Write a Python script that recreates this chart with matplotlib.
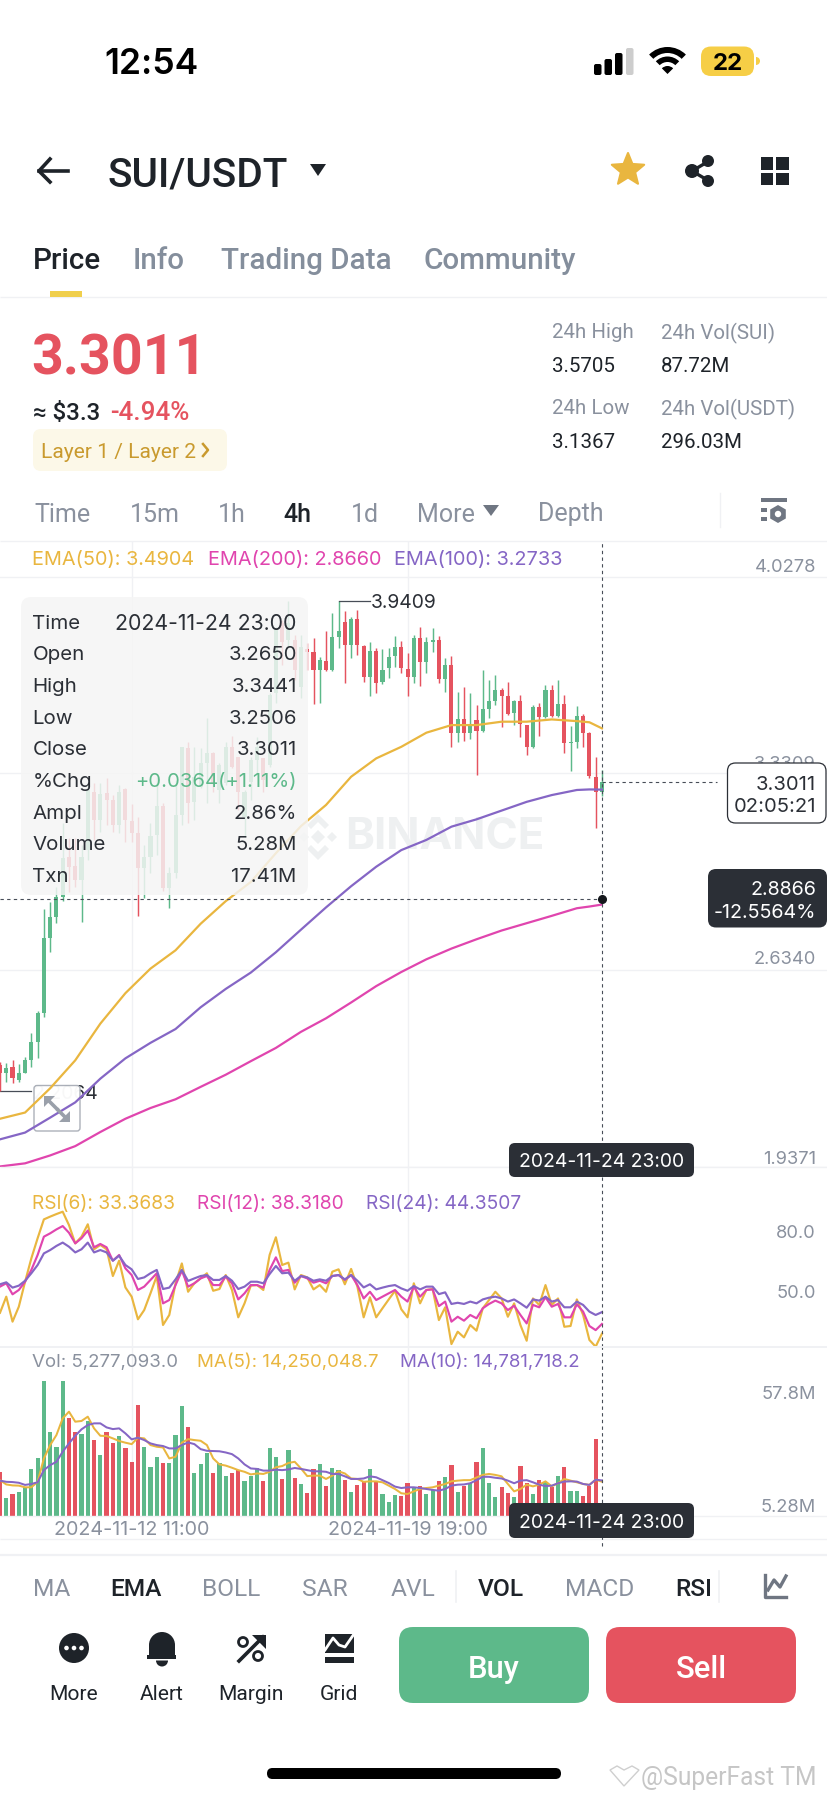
import numpy as np
import matplotlib
matplotlib.use("Agg")
import matplotlib.pyplot as plt
from matplotlib.patches import FancyBboxPatch, Rectangle, Circle, Wedge, Polygon

# ---------- data ----------
highs = [2.309,2.306,2.315,2.301,2.327,2.410,2.490,2.849,2.875,2.929,3.154,3.101,3.101,3.077,3.301,3.298,3.298,3.313,3.254,3.290,
         3.278,3.222,3.177,3.077,3.156,3.319,3.225,3.000,3.307,3.426,3.443,3.426,3.420,3.526,3.408,3.367,3.443,3.465,3.390,3.272,
         3.390,3.461,3.384,3.615,3.851,3.874,3.9409,3.821,3.821,3.792,3.809,3.744,3.837,3.898,3.9409,3.907,3.886,3.910,3.786,3.798,
         3.774,3.770,3.774,3.818,3.801,3.756,3.821,3.851,3.813,3.845,3.819,3.739,3.747,3.620,3.636,3.617,3.572,3.697,3.662,3.680,
         3.632,3.656,3.591,3.607,3.504,3.573,3.579,3.644,3.644,3.662,3.609,3.499,3.571,3.541,3.479,3.388,3.3441]
opens = [2.297,2.268,2.289,2.244,2.268,2.315,2.380,2.483,2.746,2.821,2.892,3.036,3.003,2.953,3.059,3.264,3.167,3.260,3.237,3.148,
         3.274,3.163,3.118,2.994,3.036,3.112,3.215,2.923,2.977,3.183,3.420,3.231,3.284,3.367,3.404,3.272,3.296,3.423,3.390,3.178,
         3.302,3.378,3.384,3.361,3.615,3.863,3.803,3.803,3.638,3.770,3.762,3.697,3.730,3.697,3.815,3.868,3.786,3.877,3.782,3.671,
         3.766,3.656,3.703,3.747,3.778,3.700,3.671,3.809,3.727,3.798,3.803,3.664,3.715,3.473,3.524,3.473,3.520,3.481,3.558,3.589,
         3.626,3.605,3.544,3.587,3.502,3.423,3.565,3.532,3.626,3.534,3.576,3.437,3.441,3.534,3.475,3.319,3.2650]
closes = [2.268,2.288,2.250,2.268,2.315,2.380,2.483,2.746,2.821,2.892,3.030,3.000,2.953,3.036,3.272,3.166,3.258,3.237,3.148,3.266,
          3.166,3.118,2.994,3.036,3.109,3.215,2.923,2.979,3.183,3.423,3.225,3.319,3.367,3.402,3.296,3.361,3.426,3.355,3.266,3.266,
          3.378,3.426,3.307,3.609,3.845,3.798,3.863,3.697,3.780,3.762,3.697,3.733,3.697,3.815,3.835,3.786,3.877,3.786,3.671,3.766,
          3.650,3.697,3.744,3.778,3.703,3.671,3.809,3.727,3.795,3.803,3.664,3.715,3.473,3.524,3.473,3.502,3.482,3.558,3.589,3.626,
          3.605,3.541,3.587,3.505,3.423,3.567,3.532,3.626,3.534,3.576,3.437,3.441,3.534,3.473,3.322,3.266,3.3011]
lows = [2.2064,2.238,2.233,2.238,2.268,2.292,2.321,2.466,2.699,2.802,2.880,2.912,2.929,2.805,3.024,3.095,3.124,3.148,3.124,3.118,
        3.089,3.089,2.825,2.888,2.977,3.042,2.915,2.853,2.959,3.148,3.156,3.166,3.278,3.225,3.266,3.225,3.290,3.349,3.201,3.107,
        3.236,3.331,3.266,3.355,3.579,3.715,3.780,3.662,3.597,3.697,3.576,3.579,3.695,3.695,3.774,3.652,3.739,3.750,3.656,3.605,
        3.615,3.648,3.668,3.707,3.685,3.605,3.652,3.641,3.685,3.762,3.652,3.620,3.423,3.443,3.447,3.453,3.325,3.479,3.526,3.573,
        3.494,3.538,3.501,3.459,3.396,3.420,3.465,3.526,3.532,3.532,3.402,3.340,3.420,3.423,3.313,3.137,3.2506]
volumes = [18.2,7.3,9.1,9.8,12.2,19.4,24.0,56.6,34.9,28.9,56.4,40.8,35.2,34.2,39.8,31.7,25.4,34.9,30.3,33.4,
           28.5,22.4,46.5,28.9,20.5,24.7,21.9,21.9,33.7,46.1,37.3,18.0,21.7,26.4,17.7,22.2,16.6,17.7,19.1,14.5,
           16.8,19.8,14.7,28.5,24.7,15.2,27.5,15.9,13.1,9.4,19.6,21.7,12.6,19.8,19.3,14.9,10.1,12.9,14.0,19.6,
           14.0,9.1,5.6,8.8,8.4,13.6,11.9,12.6,9.1,10.8,14.4,16.3,21.4,10.1,12.6,13.6,22.4,28.4,13.6,7.7,
           11.9,9.4,7.7,21.0,13.7,9.1,15.1,14.0,11.9,16.5,20.3,10.5,10.5,8.4,12.6,32.1,5.28]
ma5 = [14.9,13.1,12.7,12.6,11.9,11.9,14.2,24.0,29.6,33.8,40.8,43.6,39.4,39.7,41.5,36.6,33.5,33.4,32.4,31.3,
       30.6,30.0,32.7,32.4,29.6,28.9,28.6,24.0,24.7,30.6,32.1,31.7,31.4,29.6,24.0,21.5,21.0,20.1,19.1,18.4,
       17.3,17.7,17.5,18.4,20.3,20.8,22.1,22.6,19.8,16.6,16.8,16.8,15.4,16.8,18.6,17.7,15.6,15.4,14.2,14.4,
       14.4,14.0,12.6,11.2,9.4,9.1,10.2,11.2,11.6,11.9,12.6,13.3,14.4,14.7,14.9,14.9,16.0,17.1,17.5,17.1,
       16.5,13.3,10.2,11.2,13.0,12.3,13.0,14.4,12.3,13.6,15.4,14.7,14.0,13.3,12.9,15.1,14.25]
ma10 = [14.7,14.2,14.1,13.8,12.9,13.3,14.0,19.1,21.2,22.6,26.8,30.3,33.5,36.2,38.0,38.7,38.7,37.0,36.3,36.6,
        34.5,32.0,32.7,31.7,30.3,29.6,29.2,28.2,28.2,29.6,30.7,30.0,27.9,27.2,27.1,27.0,26.5,25.8,24.0,21.5,
        19.8,19.6,18.9,18.9,19.3,19.1,19.4,20.0,19.6,19.1,18.6,18.6,18.4,17.5,17.5,16.5,15.4,15.4,15.6,16.5,
        16.1,14.9,13.7,12.2,11.6,11.9,11.9,11.6,11.2,10.8,10.5,11.2,12.6,13.0,13.1,13.6,14.9,16.3,16.3,15.9,
        15.6,14.7,13.6,14.7,14.9,14.0,13.0,12.4,12.6,13.6,14.3,14.4,14.3,13.3,12.9,15.1,14.78]
rsi6 = [44.0,52.2,39.5,47.1,59.8,71.7,81.9,91.5,92.9,94.2,95.4,88.6,79.3,82.7,89.0,76.3,78.5,76.3,62.7,70.5,
        56.9,52.2,40.7,45.4,53.9,62.7,37.8,42.9,59.0,69.1,54.7,59.0,61.5,64.1,55.2,56.1,63.2,55.6,41.7,48.8,
        57.8,58.1,55.6,73.4,82.4,68.3,69.5,55.9,63.2,62.0,55.9,58.1,54.7,64.9,66.1,58.5,66.3,57.3,41.7,51.9,
        41.7,46.3,50.8,55.2,45.8,41.7,59.0,48.8,55.6,56.1,40.3,46.8,28.1,34.4,31.5,37.8,34.9,46.3,50.5,54.7,
        51.3,42.0,48.8,37.8,29.8,51.3,48.0,58.1,48.0,51.3,36.9,37.3,50.8,42.9,30.2,26.8,33.3683]
rsi12 = [57.3,59.0,53.4,55.6,59.8,65.8,73.4,82.7,84.4,86.4,88.1,84.7,79.3,81.9,85.8,77.3,79.0,77.3,70.5,73.4,
         66.6,63.2,55.6,57.3,60.7,64.1,48.8,50.5,58.1,65.4,57.3,59.0,61.5,62.7,58.1,58.1,62.4,59.0,50.8,53.9,
         58.1,58.1,56.8,65.8,72.2,65.2,65.8,59.3,62.7,61.5,59.3,60.3,59.0,62.7,63.2,60.7,63.2,58.1,51.3,54.7,
         50.5,52.2,53.9,55.6,52.2,49.7,57.3,52.2,55.6,55.9,47.4,49.7,39.5,42.0,40.0,42.9,41.2,46.3,48.5,50.2,
         48.8,45.4,47.6,42.9,38.6,48.0,46.8,51.9,47.1,48.5,41.7,41.7,48.3,44.6,37.3,35.2,38.3180]
rsi24 = [58.5,59.5,56.8,57.8,60.3,64.1,68.3,74.2,75.9,78.0,79.7,77.6,74.7,76.3,79.7,74.7,75.9,74.7,70.5,73.0,
         68.3,66.1,61.2,62.0,64.1,65.8,56.1,56.8,61.0,65.8,60.2,61.5,62.7,63.2,60.7,60.7,62.7,60.3,56.1,57.3,
         59.8,59.8,59.0,63.7,67.8,64.1,64.4,60.3,62.7,62.0,60.3,61.0,60.3,62.7,63.2,61.0,63.2,60.3,56.9,58.5,
         55.9,56.8,57.6,58.1,56.4,55.2,57.6,55.9,57.3,57.3,53.5,54.4,48.5,49.1,48.5,49.7,48.8,50.8,51.7,52.2,
         51.3,49.7,50.8,48.8,46.6,50.8,50.2,52.2,49.7,50.5,46.8,46.8,49.7,48.0,44.6,42.9,44.3507]
ema_idx = [0,4,8,12,16,20,24,28,32,36,40,44,48,52,56,60,64,68,72,76,80,84,88,92,94,96]
ema50 = [2.107,2.129,2.215,2.314,2.444,2.552,2.639,2.704,2.798,2.878,2.946,3.048,3.144,3.219,3.319,3.384,3.425,3.475,3.502,3.502,3.514,3.514,3.522,3.516,3.512,3.4904]
ema100 = [2.034,2.058,2.111,2.165,2.249,2.321,2.376,2.425,2.502,2.567,2.625,2.697,2.777,2.856,2.931,3.000,3.059,3.095,3.142,3.168,3.199,3.230,3.254,3.272,3.274,3.2733]
ema200 = [1.938,1.949,1.977,2.010,2.060,2.107,2.145,2.176,2.220,2.263,2.311,2.358,2.415,2.463,2.519,2.577,2.627,2.672,2.710,2.743,2.774,2.800,2.826,2.853,2.859,2.8660]
price_ticks = [4.0278, 3.3309, 2.6340, 1.9371]
price_tick_labels = ["4.0278", "3.3309", "2.6340", "1.9371"]
cross_price = 2.8866
rsi_ticks = [80.0, 50.0]
time_ticks = [21, 65]
time_labels = ["2024-11-12 11:00", "2024-11-19 19:00"]
tooltip_keys = ["Time", "Open", "High", "Low", "Close", "%Chg", "Ampl", "Volume", "Txn"]
tooltip_vals = ["2024-11-24 23:00", "3.2650", "3.3441", "3.2506", "3.3011", "+0.0364(+1.11%)", "2.86%", "5.28M", "17.41M"]

# ---------- style ----------
W, H = 828, 1796
STEP = 6.27
GREEN, RED = "#5DB98A", "#E5535F"
YEL, PINK, PUR = "#E9B63F", "#E045AE", "#8566C5"
GRID = "#F0F1F4"
GRAY = "#8A919E"
DARK = "#1E2329"
CHART = "Inter"
UI = "Roboto"

fig = plt.figure(figsize=(W/100, H/100), dpi=100, facecolor="white")

def pane(y1, y2, ylim):
    ax = fig.add_axes([0, 1-y2/H, 1, (y2-y1)/H])
    ax.set_xlim(0, W/STEP)
    ax.set_ylim(*ylim)
    ax.axis("off")
    for t in time_ticks:
        ax.axvline(t, color=GRID, lw=1.0, zorder=0)
    ax.axvline(96, color="#474D57", lw=0.8, dashes=(3, 3), zorder=6)
    return ax

pp = 282.2
main = pane(541, 1166.5, (4.0278-(1166.5-576.7)/pp, 4.0278+(576.7-541)/pp))
rsi = pane(1166.5, 1346.7, (50-(1346.7-1301)/1.967, 50+(1301-1166.5)/1.967))
vol = pane(1346.7, 1515.7, (0, 169/2.386))

ui = fig.add_axes([0, 0, 1, 1], zorder=10)
ui.set_xlim(0, W)
ui.set_ylim(H, 0)
ui.axis("off")

def T(x, y, s, px, color=DARK, ha="left", weight="normal", fam=UI, **kw):
    return ui.text(x, y, s, fontsize=px*0.72, color=color, ha=ha, va="center_baseline",
                   fontweight=weight, family=fam, **kw)

def rbox(x1, y1, x2, y2, r, fc, ec="none", lw=0, alpha=None, z=1, ax=None, **kw):
    a = ax or ui
    p = FancyBboxPatch((x1+r, y1+r), x2-x1-2*r, y2-y1-2*r, boxstyle=f"round,pad={r},rounding_size={r}",
                       fc=fc, ec=ec, lw=lw, alpha=alpha, zorder=z, transform=ui.transData, **kw)
    a.add_patch(p)
    return p

def hline(y, x1=0, x2=W, c=GRID, lw=1.0, z=0.5):
    ui.plot([x1, x2], [y, y], color=c, lw=lw, zorder=z, solid_capstyle="butt")

# ---------- main pane ----------
idx = np.arange(len(closes))
o, h, l, c = map(np.array, (opens, highs, lows, closes))
colors = np.where(c >= o, GREEN, RED)
for t in price_ticks:
    main.axhline(t, color=GRID, lw=1.0, zorder=0)
main.text(345/STEP, 3.1025, "BINANCE", fontsize=31.5, fontweight="bold", family=CHART, color="#EEF0F1",
          ha="left", va="center", zorder=0.5)
# watermark logo, under the candles and lines
cx, cy = 318, 837
def diamond(x0, y0, r):
    return Polygon([(x0-r, y0), (x0, y0-r), (x0+r, y0), (x0, y0+r)], fc="#EEF0F1", ec="none", zorder=0.5,
                   transform=ui.transData, clip_on=False)
main.add_patch(diamond(cx, cy, 7))
main.add_patch(diamond(cx-14, cy, 5))
main.add_patch(diamond(cx+14, cy, 5))
for sgn in (-1, 1):
    main.add_patch(Polygon([(cx-11, cy+sgn*12), (cx, cy+sgn*23), (cx+11, cy+sgn*12), (cx+7, cy+sgn*8),
                            (cx, cy+sgn*15), (cx-7, cy+sgn*8)], fc="#EEF0F1", ec="none", zorder=0.5,
                           transform=ui.transData, clip_on=False))
main.vlines(idx, l, h, colors=colors, lw=1.05, zorder=2)
main.bar(idx, np.maximum(np.abs(c-o), 0.004), bottom=np.minimum(o, c), width=4.1/STEP, color=colors, zorder=2.2)
main.plot(ema_idx, ema200, color=PINK, lw=1.6, zorder=4)
main.plot(ema_idx, ema100, color=PUR, lw=1.6, zorder=4)
main.plot(ema_idx, ema50, color=YEL, lw=1.6, zorder=4)
main.hlines(cross_price, 0, 96, colors="#474D57", lw=0.8, linestyles=(0, (3, 3)), zorder=5)
main.hlines(c[-1], 96, 114.4, colors="#474D57", lw=0.8, linestyles=(0, (3, 3)), zorder=5)
main.plot([96], [cross_price], "o", color="#14171C", ms=5.5, zorder=7)
# high / low markers
main.plot([54, 59], [h[54], h[54]], color="#474D57", lw=0.9, zorder=3)
main.text(370.5/STEP, h[54]-0.008, "3.9409", fontsize=13.9, family=CHART, color="#2B2F36", va="center", zorder=3)
main.plot([0, 5], [l[0], l[0]], color="#474D57", lw=0.9, zorder=1)
main.text(33/STEP, l[0]-0.012, "2.2064", fontsize=13.9, family=CHART, color="#2B2F36", va="center", zorder=1)
rbox(34, 1085.5, 80, 1131, 3, "white", ec="#A9AEB7", lw=1, alpha=0.97, z=3, ax=main, clip_on=False)
# resize arrows
ARW = "#9AA0AA"
ui.add_patch(Polygon([(44, 1096), (55, 1096), (44, 1107)], fc=ARW, zorder=4))
ui.plot([47, 57], [1099, 1109], color=ARW, lw=2.6, zorder=4)
ui.add_patch(Polygon([(70, 1122), (59, 1122), (70, 1111)], fc=ARW, zorder=4))
ui.plot([67, 58], [1119, 1110], color=ARW, lw=2.6, zorder=4)

# ---------- RSI ----------
rsi.plot(idx, rsi6, color=YEL, lw=1.55, zorder=3, clip_on=False)
rsi.plot(idx, rsi12, color=PINK, lw=1.55, zorder=3.1)
rsi.plot(idx, rsi24, color=PUR, lw=1.55, zorder=3.2)

# ---------- Volume ----------
vol.bar(idx, volumes, width=4.2/STEP, color=colors, zorder=2)
vol.plot(idx, ma5, color=YEL, lw=1.45, zorder=3)
vol.plot(idx, ma10, color=PUR, lw=1.45, zorder=3.1)

# ---------- separators ----------
hline(541); hline(1166.5); hline(1346.7, lw=1.4); hline(1515.7); hline(1539); hline(1554.5, lw=1.6)
hline(297, lw=1.0)
ui.plot([96*STEP, 96*STEP], [1515.7, 1549], color="#474D57", lw=0.8, dashes=(3, 3), zorder=0.6)

# ---------- chart labels ----------
LE, LR, LV, LT = 19.9, 19.2, 18.7, 18.3
T(32, 558, "EMA(50): 3.4904", LE, YEL, fam=CHART)
T(208, 558, "EMA(200): 2.8660", LE, PINK, fam=CHART)
T(394, 558, "EMA(100): 3.2733", LE, PUR, fam=CHART)
T(32, 1202, "RSI(6): 33.3683", LR, YEL, fam=CHART)
T(197, 1202, "RSI(12): 38.3180", LR, PINK, fam=CHART)
T(366, 1202, "RSI(24): 44.3507", LR, PUR, fam=CHART)
T(32, 1360, "Vol: 5,277,093.0", LV, GRAY, fam=CHART)
T(197, 1360, "MA(5): 14,250,048.7", LV, YEL, fam=CHART)
T(400, 1360, "MA(10): 14,781,718.2", LV, PUR, fam=CHART)
for s, y in zip(price_tick_labels, (566, 762.5, 958, 1157)):
    T(816, y, s, LT, GRAY, ha="right", fam=CHART)
for v, y in zip(rsi_ticks, (1232, 1291)):
    T(816, y, f"{v:.1f}", LT, GRAY, ha="right", fam=CHART)
T(816, 1392.5, "57.8M", LT, GRAY, ha="right", fam=CHART)
T(816, 1505, "5.28M", LT, GRAY, ha="right", fam=CHART)
for t, s in zip(time_ticks, time_labels):
    T(t*STEP, 1528, s, 19.8, GRAY, ha="center", fam=CHART)

# tooltip
rbox(21, 597, 308, 895, 10, "#F5F5F5", alpha=0.84, z=2)
for k, v, y in zip(tooltip_keys, tooltip_vals, np.linspace(621.6, 875, 9)):
    col = GREEN if k == "%Chg" else "#2B2F36"
    T(32.5, y, k, 20.5, "#2B2F36", fam=CHART, zorder=3)
    T(296.7, y, v, 21.3 if k == "Time" else 20.3, col, ha="right", fam=CHART, zorder=3)

# price boxes
rbox(727.5, 763, 826, 823, 8, "white", ec="#2B2F36", lw=0.9, z=3)
T(816, 782.5, "3.3011", 20.2, "#2B2F36", ha="right", fam=CHART, zorder=4)
T(816, 805.5, "02:05:21", 20.2, "#2B2F36", ha="right", fam=CHART, zorder=4)
rbox(708, 869, 827, 927.5, 8, "#2B2F36", z=3)
T(816, 888, "2.8866", 19.7, "white", ha="right", fam=CHART, zorder=4)
T(816, 911, "-12.5564%", 19.7, "white", ha="right", fam=CHART, zorder=4)
for yc, y1, y2 in ((1160, 1143, 1177), (1521, 1503, 1538)):
    rbox(509, y1, 694, y2, 6, "#2B2F36", z=3)
    T(601.7, yc, "2024-11-24 23:00", 19.3, "white", ha="center", fam=CHART, zorder=4)

# ---------- status bar ----------
T(104, 61, "12:54", 35.5, "black", weight="semibold", fam=CHART)
for x, y0, col in ((594, 64, "black"), (604.5, 59, "black"), (615, 53, "black"), (626, 48, "#CDCDCD")):
    rbox(x, y0, x+7.5, 75, 2, col)
for r, wd in ((26, 6), (16.5, 5.5)):
    ui.add_patch(Wedge((667.5, 73), r, -135, -45, width=wd, fc="black"))
ui.add_patch(Wedge((667.5, 74), 8, -135, -45, fc="black"))
rbox(701, 46.5, 754, 76, 10, "#F6CE46")
ui.add_patch(Wedge((756, 61), 4, -90, 90, fc="#F6CE46"))
T(727.5, 61.5, "22", 24, "black", ha="center", weight="bold", fam=CHART)

# ---------- nav ----------
ui.plot([39, 68], [171, 171], color=DARK, lw=2.6)
ui.plot([50, 39, 50], [159, 171, 182], color=DARK, lw=2.6)
T(108, 171.5, "SUI/USDT", 40.5, DARK, weight="medium")
ui.add_patch(Polygon([(310, 164), (326, 164), (318, 176)], fc=DARK, joinstyle="round"))
th = np.arange(10)*np.pi/5 - np.pi/2
rad = np.where(np.arange(10) % 2 == 0, 17, 7.5)
ui.add_patch(Polygon(np.c_[628+rad*np.cos(th), 170+rad*np.sin(th)], fc="#E9B63F", ec="#E9B63F", lw=1.5, joinstyle="round"))
ui.plot([709, 692, 709], [161, 171, 181], color=DARK, lw=2.4)
for px_, py_, r in ((708, 161, 6), (692, 171, 7), (708, 181, 6)):
    ui.add_patch(Circle((px_, py_), r, fc=DARK))
for x, y in ((761, 157), (776.5, 157), (761, 172.5), (776.5, 172.5)):
    ui.add_patch(Rectangle((x, y), 12.5, 12.5, fc=DARK))

# ---------- tabs ----------
TB = 29.6
T(33, 258, "Price", TB, DARK, weight="medium")
T(133, 258, "Info", TB, "#848E9C", weight="medium")
T(221, 258, "Trading Data", TB, "#848E9C", weight="medium")
T(424, 258, "Community", TB, "#848E9C", weight="medium")
ui.add_patch(Rectangle((50, 291), 32, 5.5, fc="#F0CF4C", zorder=2))

# ---------- price block ----------
T(31, 354, "3.3011", 55.5, RED, weight="bold")
T(33, 411, "≈ $3.3", 24, DARK, weight="medium")
T(110, 411, "-4.94%", 26, RED, weight="medium")
rbox(33, 429, 227, 471, 8, "#FCF8E8")
T(41, 451, "Layer 1 / Layer 2", 21, "#C99A2E")
ui.plot([203, 208, 203], [444, 450, 456], color="#C99A2E", lw=1.8)
S1, S2 = 20.5, 20.5
T(552, 331, "24h High", S1, GRAY); T(661, 331, "24h Vol(SUI)", S1, GRAY)
T(552, 365, "3.5705", S2, DARK); T(661, 365, "87.72M", S2, DARK)
T(552, 407, "24h Low", S1, GRAY); T(661, 407, "24h Vol(USDT)", S1, GRAY)
T(552, 440, "3.1367", S2, DARK); T(661, 440, "296.03M", S2, DARK)

# ---------- interval row ----------
IV = 25
for x, s, col, w in ((34, "Time", GRAY, "normal"), (130, "15m", GRAY, "normal"), (218, "1h", GRAY, "normal"),
                     (283, "4h", DARK, "medium"), (351, "1d", GRAY, "normal"), (417, "More", GRAY, "normal"),
                     (538, "Depth", GRAY, "normal")):
    T(x, 512, s, IV, col, weight=w)
ui.add_patch(Polygon([(483, 505), (499, 505), (491, 516)], fc="#6F7682", joinstyle="round"))
ui.plot([720, 720], [493, 527], color=GRID, lw=1)
ui.add_patch(Rectangle((761, 498), 26, 3.5, fc="#6F7682"))
ui.add_patch(Rectangle((761, 508), 6, 4, fc="#6F7682"))
ui.add_patch(Rectangle((761, 517), 6, 4, fc="#6F7682"))
ang = np.arange(6)*np.pi/3 + np.pi/6
ui.add_patch(Polygon(np.c_[778+9*np.cos(ang), 514+9*np.sin(ang)], fc="#6F7682"))
ui.add_patch(Circle((778, 514), 3.2, fc="white"))

# ---------- indicator row ----------
for x, s, col, w in ((33, "MA", GRAY, "normal"), (110, "EMA", DARK, "medium"), (202, "BOLL", GRAY, "normal"),
                     (302, "SAR", GRAY, "normal"), (391, "AVL", GRAY, "normal"), (478, "VOL", DARK, "medium"),
                     (565, "MACD", GRAY, "normal"), (675, "RSI", DARK, "medium")):
    T(x, 1587, s, 24.5, col, weight=w)
ui.plot([456, 456], [1571, 1602], color=GRID, lw=1.2)
ui.plot([719, 719], [1571, 1602], color=GRID, lw=1.2)
ui.plot([765.5, 765.5, 786], [1575, 1597, 1597], color="#6F7682", lw=2.4)
ui.plot([768, 774, 780, 786], [1590, 1580, 1587, 1576], color="#6F7682", lw=2.4)

# ---------- bottom actions ----------
for x, s in ((74, "More"), (162, "Alert"), (251, "Margin"), (339, "Grid")):
    T(x, 1692, s, 21, DARK, ha="center")
ui.add_patch(Circle((74, 1648), 15, fc=DARK))
for dx in (-7.5, 0, 7.5):
    ui.add_patch(Circle((74+dx, 1648), 2.3, fc="white"))
ui.add_patch(Wedge((162, 1645), 13, 180, 360, fc=DARK))
ui.add_patch(Rectangle((149, 1645), 26, 11, fc=DARK))
ui.add_patch(Rectangle((147.5, 1655), 29, 4, fc=DARK))
ui.add_patch(Wedge((162, 1660.5), 6, 0, 180, fc=DARK))
ui.plot([239, 263], [1661, 1637], color=DARK, lw=2.6)
ui.add_patch(Polygon([(252, 1635), (266, 1635), (266, 1649)], fc=DARK))
for px_, py_ in ((243, 1642), (258, 1656)):
    ui.add_patch(Circle((px_, py_), 4.5, fc="white", ec=DARK, lw=2))
ui.add_patch(Rectangle((325, 1634), 29, 19, fc=DARK))
ui.plot([325, 333, 339, 345, 354], [1650, 1638, 1645, 1647, 1634], color="white", lw=2)
ui.add_patch(Rectangle((325, 1657), 29, 5.5, fc=DARK))
rbox(399, 1627, 589, 1703, 14, GREEN)
rbox(606, 1627, 796, 1703, 14, RED)
T(494, 1666, "Buy", 31, "white", ha="center", weight="medium")
T(701, 1666, "Sell", 31, "white", ha="center", weight="medium")

# ---------- home bar and watermark ----------
rbox(267, 1768, 561, 1779, 5.5, "black")
T(641, 1775, "@SuperFast TM", 24.6, "#C6C6C6")
ui.add_patch(Polygon([(610, 1770), (617, 1766), (624, 1770), (632, 1766), (639, 1770), (624, 1786)], closed=True,
                     fill=False, ec="#CFCFCF", lw=1))

fig.savefig("out.png", dpi=100, facecolor="white")
